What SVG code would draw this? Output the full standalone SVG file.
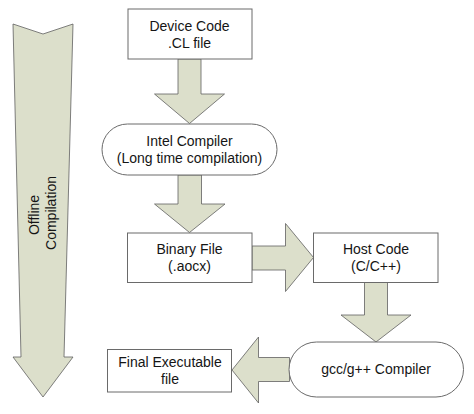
<svg xmlns="http://www.w3.org/2000/svg" width="474" height="414" viewBox="0 0 474 414">
<style>
.arrow{fill:#dcdfcb;stroke:#5f5f5f;stroke-width:0.8;stroke-linejoin:miter}
.box{fill:#ffffff;stroke:#6a6a6a;stroke-width:1}
.t{font-family:"Liberation Sans",Arial,sans-serif;font-size:14px;fill:#151515;text-anchor:middle}
</style>
<rect width="474" height="414" fill="#ffffff"/>
<g id="offline-compilation">
<polygon class="arrow" points="13,24 43,34 73,24 64,357 73,357 43,397 13,357 21,357"/>
<text class="t" x="39" y="215" transform="rotate(-90 39 215)">Offline</text>
<text class="t" x="55.5" y="213" transform="rotate(-90 55.5 213)">Compilation</text>
</g>
<g id="connectors">
<polygon class="arrow" points="178,59 201,59 201,94 224.5,94 189.5,123.5 154.5,94 178,94"/>
<polygon class="arrow" points="178,175 201.5,175 201.5,204 225,204 189.5,232.5 154.5,204 178,204"/>
<polygon class="arrow" points="252,246 285.5,246 285.5,223.5 313.5,257.5 285.5,291.5 285.5,270 252,270"/>
<polygon class="arrow" points="364.5,282.5 387.5,282.5 387.5,315 411,315 376,342 341,315 364.5,315"/>
<polygon class="arrow" points="289.5,357.5 258.5,357.5 258.5,337 232,370 258.5,403 258.5,381.5 289.5,381.5"/>
</g>
<g id="device-code">
<rect class="box" x="128" y="9" width="124" height="50"/>
<text class="t" x="189.5" y="30.5">Device Code</text>
<text class="t" x="189.5" y="47.5">.CL file</text>
</g>
<g id="intel-compiler">
<rect class="box" x="102" y="124" width="175" height="51" rx="25.5" ry="25.5"/>
<text class="t" x="189.5" y="146">Intel Compiler</text>
<text class="t" x="189.5" y="163">(Long time compilation)</text>
</g>
<g id="binary-file">
<rect class="box" x="127.5" y="233" width="124.5" height="49.5"/>
<text class="t" x="189.5" y="254">Binary File</text>
<text class="t" x="189.5" y="271">(.aocx)</text>
</g>
<g id="host-code">
<rect class="box" x="313.5" y="233" width="124.5" height="49.5"/>
<text class="t" x="376" y="254">Host Code</text>
<text class="t" x="376" y="271">(C/C++)</text>
</g>
<g id="gcc-compiler">
<rect class="box" x="289" y="342" width="174.5" height="55" rx="27.5" ry="27.5"/>
<text class="t" x="376" y="374">gcc/g++ Compiler</text>
</g>
<g id="final-executable">
<rect class="box" x="107.5" y="349.5" width="124" height="42.5"/>
<text class="t" x="170" y="367">Final Executable</text>
<text class="t" x="170" y="384">file</text>
</g>
</svg>
